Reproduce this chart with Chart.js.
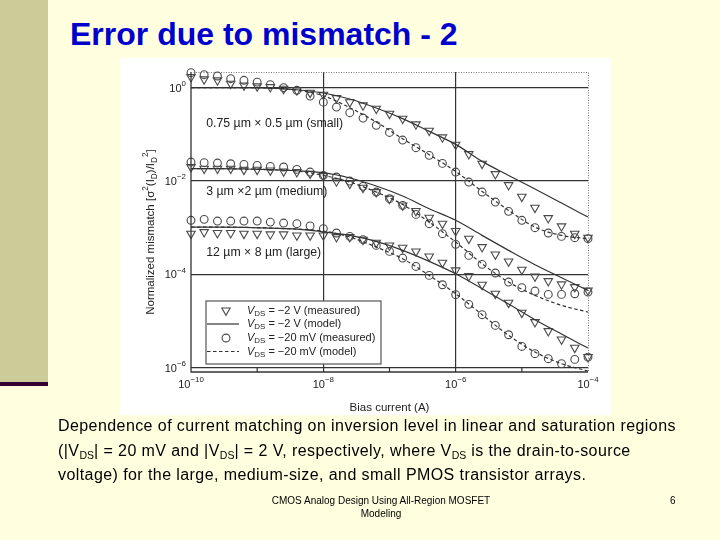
<!DOCTYPE html>
<html><head><meta charset="utf-8">
<script src="https://cdn.jsdelivr.net/npm/chart.js@4"></script>
<style>
body{margin:0;}
#slide{position:relative;width:720px;height:540px;background:#FFFFE0;overflow:hidden;font-family:'Liberation Sans',Arial,sans-serif;}
.abs{position:absolute;}
#cap{left:58px;top:414px;font-size:16px;letter-spacing:0.42px;line-height:24.5px;color:#000;white-space:nowrap;}
#cap sub{font-size:10.5px;vertical-align:-3px;line-height:0;letter-spacing:0;}
</style></head>
<body>
<div id="slide">
  <div class="abs" style="left:0;top:0;width:48px;height:382px;background:#CCCC99"></div>
  <div class="abs" style="left:0;top:382px;width:48px;height:4px;background:#330033"></div>
  <div class="abs" style="left:70px;top:15px;font-size:32px;font-weight:bold;color:#0000CC;white-space:nowrap;line-height:38px">Error due to mismatch - 2</div>
  <div class="abs" style="left:120px;top:58px;width:491px;height:357px;background:#FFFFFF"></div>
  <canvas id="c" class="abs" width="720" height="540" style="left:0;top:0"></canvas>
  <div id="cap" class="abs">Dependence of current matching on inversion level in linear and saturation regions<br>(|V<sub>DS</sub>| = 20 mV and |V<sub>DS</sub>| = 2 V, respectively, where V<sub>DS</sub> is the drain-to-source<br>voltage) for the large, medium-size, and small PMOS transistor arrays.</div>
  <div class="abs" style="left:231px;top:494px;width:300px;text-align:center;font-size:10px;line-height:13px">CMOS Analog Design Using All-Region MOSFET<br>Modeling</div>
  <div class="abs" style="left:670px;top:494px;font-size:10px;line-height:13px">6</div>
</div>
<script>
// ---- data ----
const measuredCurrent = [1e-10,1.58e-10,2.51e-10,3.98e-10,6.31e-10,1e-9,1.58e-9,2.51e-9,3.98e-9,6.31e-9,1e-8,1.58e-8,2.51e-8,3.98e-8,6.31e-8,1e-7,1.58e-7,2.51e-7,3.98e-7,6.31e-7,1e-6,1.58e-6,2.51e-6,3.98e-6,6.31e-6,1e-5,1.58e-5,2.51e-5,3.98e-5,6.31e-5,1e-4];
const modelCurrent = [1e-10,2.51e-10,6.31e-10,1.58e-9,3.98e-9,1e-8,2.51e-8,6.31e-8,1.58e-7,3.98e-7,1e-6,2.51e-6,6.31e-6,1.58e-5,3.98e-5,1e-4];

const smallMeas2V = [1.69,1.51,1.44,1.22,1.12,1.07,1.03,0.95,0.88,0.78,0.71,0.60,0.49,0.42,0.355,0.277,0.217,0.164,0.12,0.0863,0.060,0.0379,0.0235,0.0141,0.0082,0.00461,0.00268,0.00161,0.00107,0.000744,0.000611];
const smallMeas20mV = [2.10,1.90,1.78,1.56,1.44,1.32,1.16,1.0,0.88,0.66,0.49,0.385,0.291,0.224,0.156,0.110,0.0756,0.0518,0.0355,0.0239,0.0156,0.00952,0.00581,0.00355,0.00224,0.00144,0.0010,0.00077,0.000652,0.000611,0.000581];
const smallModel2V = [1.0,1.0,1.0,0.98,0.905,0.77,0.572,0.367,0.217,0.116,0.061,0.0264,0.0132,0.00674,0.00338,0.00169];
const smallModel20mV = [1.0,1.0,1.0,0.98,0.89,0.674,0.373,0.184,0.0807,0.0367,0.0161,0.0060,0.00235,0.00103,0.000685,0.000581];

const mediumMeas2V = [0.0200,0.0184,0.0184,0.0184,0.0175,0.0175,0.0169,0.0161,0.0156,0.0144,0.0128,0.00984,0.00877,0.00720,0.00581,0.00418,0.00301,0.00228,0.00164,0.00122,0.00085,0.000581,0.000385,0.000268,0.00019,0.000126,0.0000906,0.0000720,0.0000611,0.0000535,0.0000454];
const mediumMeas20mV = [0.0255,0.0247,0.0243,0.0235,0.0228,0.0217,0.0206,0.0200,0.0178,0.0156,0.0132,0.0122,0.0100,0.00769,0.00581,0.00418,0.00301,0.00193,0.00122,0.000744,0.00044,0.000255,0.000164,0.000107,0.0000685,0.0000518,0.000044,0.0000373,0.0000373,0.0000385,0.0000418];
const mediumModel2V = [0.0184,0.0184,0.0181,0.0175,0.0166,0.0151,0.0116,0.00782,0.00477,0.00255,0.00144,0.000685,0.000327,0.000161,0.0000849,0.0000454];
const mediumModel20mV = [0.0184,0.0184,0.0181,0.0175,0.0164,0.0132,0.00952,0.00581,0.00316,0.00132,0.000493,0.000169,0.0000685,0.0000355,0.0000217,0.0000156];

const largeMeas2V = [0.000744,0.000807,0.00077,0.00077,0.000744,0.000744,0.00072,0.00072,0.000685,0.000685,0.000685,0.000631,0.000631,0.000553,0.000477,0.000418,0.000373,0.000311,0.000243,0.000178,0.000122,0.000092,0.000060,0.0000385,0.0000247,0.0000151,0.00000952,0.00000611,0.00000405,0.00000268,0.00000169];
const largeMeas20mV = [0.00144,0.00151,0.00139,0.00139,0.00139,0.00139,0.00132,0.00126,0.00122,0.00109,0.000952,0.00077,0.000652,0.000553,0.000418,0.000311,0.000224,0.000148,0.0000952,0.000060,0.0000367,0.0000228,0.0000137,0.00000807,0.00000509,0.00000286,0.0000020,0.00000156,0.00000122,0.00000151,0.00000169];
const largeModel2V = [0.00103,0.00103,0.00102,0.00098,0.000935,0.00082,0.000685,0.000509,0.000327,0.00019,0.000103,0.0000493,0.0000231,0.0000107,0.00000526,0.00000264];
const largeModel20mV = [0.00103,0.00103,0.00102,0.00098,0.000935,0.00085,0.000631,0.000385,0.000217,0.0000952,0.0000385,0.0000137,0.00000493,0.00000217,0.00000122,0.00000085];

const xTickValues = [1e-10,1e-8,1e-6,1e-4];
const xTickExponents = ['\u221210','\u22128','\u22126','\u22124'];
const xMinorTicks = [1e-9,1e-7,1e-5];
const yTickValues = [1,1e-2,1e-4,1e-6];
const yTickExponents = ['0','\u22122','\u22124','\u22126'];
const sizeLabels = ['0.75 \u00b5m \u00d7 0.5 \u00b5m (small)','3 \u00b5m \u00d72 \u00b5m (medium)','12 \u00b5m \u00d7 8 \u00b5m (large)'];
const sizeLabelY = [0.172,0.0058,0.000293];
const legendLabels = ['= \u22122 V (measured)','= \u22122 V (model)','= \u221220 mV (measured)','= \u221220 mV (model)'];

const FONT = "'Liberation Sans', Arial, sans-serif";
const INK = '#333333';
const MARK = '#4a4a4a';

function pts(xs, ys){ return ys.map((y,i)=>({x:xs[i], y:y})); }
function meas(ys, tri){
  return {type:'scatter', data:pts(measuredCurrent, ys), showLine:false,
    pointStyle: tri ? 'triangle' : 'circle', rotation: tri ? 180 : 0,
    pointRadius: tri ? 4.9 : 3.9, borderColor: MARK, backgroundColor:'rgba(0,0,0,0)',
    pointBorderWidth:1.1, clip:false};
}
function model(ys, dashed){
  return {type:'line', data:pts(modelCurrent, ys), showLine:true, pointRadius:0,
    borderColor: INK, borderWidth:1.2, borderDash: dashed ? [3.5,2.5] : [],
    cubicInterpolationMode:'monotone', fill:false, clip:false};
}

function drawParts(ctx, x, y, parts, size, align){
  const w = parts.map(p=>{
    const s = (p.sub||p.sup) ? size*0.72 : size;
    ctx.font = (p.it?'italic ':'') + s + 'px ' + FONT;
    return ctx.measureText(p.t).width;
  });
  const total = w.reduce((a,b)=>a+b,0);
  let cx = align==='right' ? x-total : align==='center' ? x-total/2 : x;
  parts.forEach((p,i)=>{
    const s = (p.sub||p.sup) ? size*0.72 : size;
    ctx.font = (p.it?'italic ':'') + s + 'px ' + FONT;
    const dy = p.sub ? size*0.3 : p.sup ? -size*0.45 : 0;
    ctx.fillText(p.t, cx, y+dy);
    cx += w[i];
  });
}

const decor = {
  id:'decor',
  afterDatasetsDraw(chart){
    const ctx = chart.ctx, a = chart.chartArea;
    const xs = chart.scales.x, ys = chart.scales.y;
    ctx.save();
    ctx.strokeStyle = INK; ctx.lineWidth = 1.3; ctx.setLineDash([]);
    ctx.beginPath();
    ctx.moveTo(a.left, a.top); ctx.lineTo(a.left, a.bottom); ctx.lineTo(a.right, a.bottom);
    ctx.stroke();
    ctx.strokeStyle = '#777'; ctx.lineWidth = 1; ctx.setLineDash([1,1.5]);
    ctx.beginPath();
    ctx.moveTo(a.left, a.top+0.5); ctx.lineTo(a.right+0.5, a.top+0.5); ctx.lineTo(a.right+0.5, a.bottom);
    ctx.stroke();
    ctx.setLineDash([]);
    ctx.strokeStyle = INK; ctx.lineWidth = 1.2;
    xMinorTicks.forEach(v=>{
      const px = xs.getPixelForValue(v);
      ctx.beginPath(); ctx.moveTo(px, a.bottom); ctx.lineTo(px, a.bottom-5); ctx.stroke();
    });
    ctx.fillStyle = '#222'; ctx.textBaseline = 'middle';
    yTickValues.forEach((v,i)=>{
      const py = ys.getPixelForValue(v);
      drawParts(ctx, a.left-5, py+1, [{t:'10'},{t:yTickExponents[i], sup:true}], 11, 'right');
    });
    xTickValues.forEach((v,i)=>{
      const px = xs.getPixelForValue(v);
      drawParts(ctx, px, a.bottom+13, [{t:'10'},{t:xTickExponents[i], sup:true}], 11, 'center');
    });
    drawParts(ctx, (a.left+a.right)/2, a.bottom+36, [{t:'Bias current (A)'}], 11.5, 'center');
    ctx.save();
    ctx.translate(a.left-40, 232); ctx.rotate(-Math.PI/2);
    drawParts(ctx, 0, 0, [{t:'Normalized mismatch [\u03c3'},{t:'2',sup:true},{t:'(I'},{t:'D',sub:true},{t:')/I'},{t:'D',sub:true},{t:'2',sup:true},{t:']'}], 11.5, 'center');
    ctx.restore();
    sizeLabels.forEach((s,i)=>{
      drawParts(ctx, xs.getPixelForValue(1.7e-10), ys.getPixelForValue(sizeLabelY[i]), [{t:s}], 12.3, 'left');
    });
    const bx = a.left+15, by = a.top+229, bw = 175, bh = 63;
    ctx.fillStyle = '#fff'; ctx.fillRect(bx, by, bw, bh);
    ctx.strokeStyle = '#555'; ctx.lineWidth = 1.2; ctx.strokeRect(bx, by, bw, bh);
    const rows = [by+9.5, by+23, by+37, by+50.5];
    const sx = bx+20;
    ctx.strokeStyle = MARK; ctx.lineWidth = 1.1;
    ctx.beginPath(); ctx.moveTo(sx-4.2, rows[0]-2.5); ctx.lineTo(sx+4.2, rows[0]-2.5); ctx.lineTo(sx, rows[0]+4.8); ctx.closePath(); ctx.stroke();
    ctx.strokeStyle = INK; ctx.lineWidth = 1.2;
    ctx.beginPath(); ctx.moveTo(bx+1, rows[1]); ctx.lineTo(bx+33, rows[1]); ctx.stroke();
    ctx.strokeStyle = MARK; ctx.lineWidth = 1.1;
    ctx.beginPath(); ctx.arc(sx, rows[2], 3.9, 0, Math.PI*2); ctx.stroke();
    ctx.strokeStyle = INK; ctx.lineWidth = 1.2; ctx.setLineDash([3.5,2.5]);
    ctx.beginPath(); ctx.moveTo(bx+1, rows[3]); ctx.lineTo(bx+33, rows[3]); ctx.stroke();
    ctx.setLineDash([]);
    ctx.fillStyle = '#222';
    legendLabels.forEach((l,i)=>{
      drawParts(ctx, bx+41, rows[i], [{t:'V',it:true},{t:'DS',sub:true},{t:' '+l}], 11, 'left');
    });
    ctx.restore();
  }
};

new Chart(document.getElementById('c'), {
  data:{datasets:[
    model(smallModel2V,false), model(smallModel20mV,true),
    model(mediumModel2V,false), model(mediumModel20mV,true),
    model(largeModel2V,false), model(largeModel20mV,true),
    meas(smallMeas2V,true), meas(smallMeas20mV,false),
    meas(mediumMeas2V,true), meas(mediumMeas20mV,false),
    meas(largeMeas2V,true), meas(largeMeas20mV,false)
  ]},
  options:{
    responsive:false, animation:false, devicePixelRatio:1,
    layout:{padding:{left:191, right:132, top:72, bottom:168}},
    plugins:{legend:{display:false}, tooltip:{enabled:false}},
    scales:{
      x:{type:'logarithmic', min:1e-10, max:1e-4,
        afterBuildTicks:s=>{ s.ticks = [1e-8,1e-6].map(v=>({value:v})); },
        ticks:{display:false}, border:{display:false},
        grid:{drawTicks:false, color:INK, lineWidth:1.2}},
      y:{type:'logarithmic', min:8.1e-7, max:2.17,
        afterBuildTicks:s=>{ s.ticks = yTickValues.map(v=>({value:v})); },
        ticks:{display:false}, border:{display:false},
        grid:{drawTicks:false, color:INK, lineWidth:1.2}}
    }
  },
  plugins:[decor]
});
</script>
</body></html>
